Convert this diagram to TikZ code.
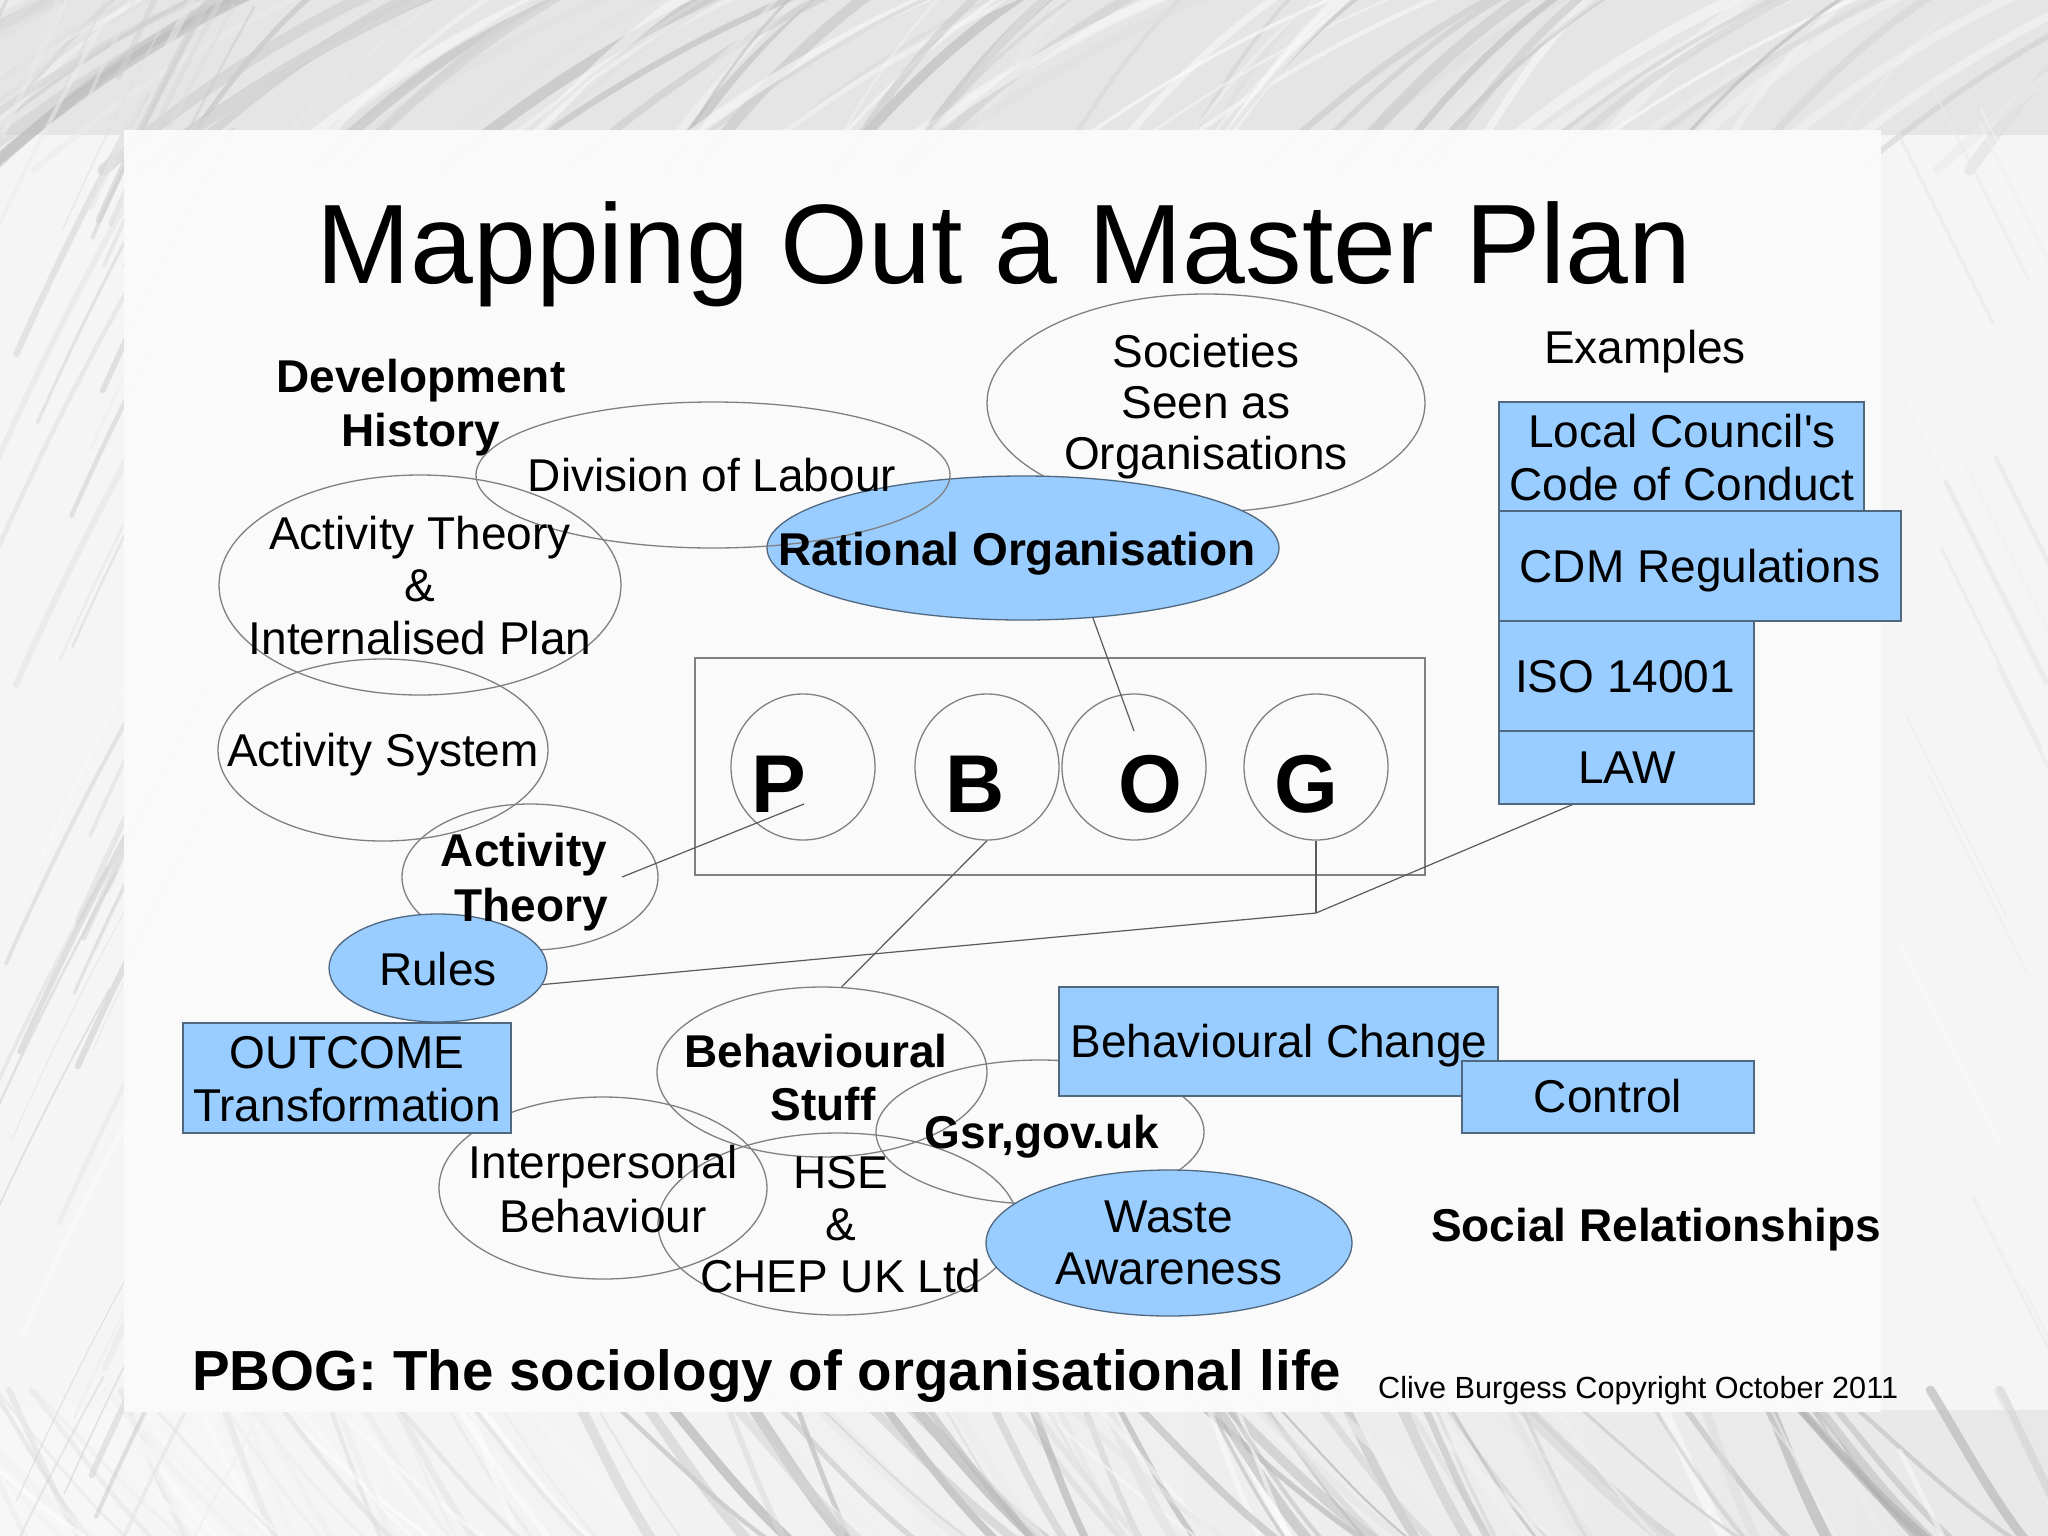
\documentclass[tikz,border=0pt]{standalone}
\usepackage{fontspec}
\setmainfont{Liberation Sans}
\newfontfamily\libsans{Liberation Sans}
\usetikzlibrary{shapes.geometric,calc}
\definecolor{blu}{HTML}{99CCFF}
\definecolor{ellgray}{HTML}{808080}
\definecolor{lngray}{HTML}{5A5A5A}
\definecolor{bluedge}{HTML}{50687F}
\definecolor{panelc}{HTML}{FBFBFB}
\newcommand\myreg{\fontsize{46}{52}\selectfont}
\newcommand\mybold{\fontsize{46}{52}\selectfont\bfseries}
\newcommand\mytitle{\fontsize{113}{130}\selectfont}
\newcommand\myletter{\fontsize{82}{90}\selectfont\bfseries}
\newcommand\myfoot{\fontsize{56.5}{64}\selectfont\bfseries}
\newcommand\mysmall{\fontsize{30.6}{36}\selectfont}
\tikzset{
 oval/.style={ellipse, draw=ellgray, line width=1.3pt, inner sep=0pt},
 blueoval/.style={ellipse, draw=bluedge, fill=blu, line width=1.3pt, inner sep=0pt},
 bluebox/.style={rectangle, draw=bluedge, fill=blu, line width=1.3pt, inner sep=0pt},
 circ/.style={ellipse, draw=ellgray, line width=1.3pt, inner sep=0pt, minimum width=144pt, minimum height=146pt},
 conn/.style={draw=lngray, line width=1.2pt},
 txt/.style={inner sep=0pt, anchor=base, font=\myreg},
 btxt/.style={inner sep=0pt, anchor=base, font=\mybold},
 feather/.style={line cap=round, opacity=0.55},
}
\begin{document}
\begin{tikzpicture}[x=1pt,y=-1pt]
\useasboundingbox (0,0) rectangle (2048,1535);
% ---------- background ----------
\fill[black!4] (0,0) rectangle (2048,1535);
\fill[black!10] (0,0) rectangle (2048,135);
\shade[left color=black!3, right color=black!9] (0,1410) rectangle (2048,1535);
\pgfmathsetseed{7}
\foreach \i in {1,...,110}{%
  \pgfmathsetmacro{\xa}{rnd*2300-300}%
  \pgfmathsetmacro{\dx}{120+rnd*200}%
  \pgfmathtruncatemacro{\g}{rnd*30}%
  \pgfmathsetmacro{\w}{2+rnd*10}%
  \draw[feather, black!\g, line width=\w pt] (\xa,170) .. controls (\xa+0.25*\dx,110) and (\xa+0.6*\dx,40) .. (\xa+\dx,-10);
}
\foreach \i in {1,...,90}{%
  \pgfmathsetmacro{\xa}{500+rnd*1600}%
  \pgfmathsetmacro{\dx}{60+rnd*140}%
  \pgfmathtruncatemacro{\g}{rnd*36}%
  \pgfmathsetmacro{\w}{2+rnd*9}%
  \draw[feather, black!\g, line width=\w pt] (\xa,1390) .. controls (\xa+0.3*\dx,1440) and (\xa+0.6*\dx,1500) .. (\xa+\dx,1550);
}
\foreach \i in {1,...,50}{%
  \pgfmathsetmacro{\xa}{rnd*600-100}%
  \pgfmathsetmacro{\dx}{60+rnd*140}%
  \pgfmathtruncatemacro{\g}{rnd*14}%
  \pgfmathsetmacro{\w}{1+rnd*6}%
  \draw[feather, black!\g, line width=\w pt] (\xa,1390) .. controls (\xa+0.3*\dx,1440) and (\xa+0.6*\dx,1500) .. (\xa+\dx,1550);
}
\foreach \i in {1,...,60}{%
  \pgfmathsetmacro{\ya}{rnd*1700}%
  \pgfmathsetmacro{\xb}{rnd*170-40}%
  \pgfmathtruncatemacro{\g}{rnd*22}%
  \pgfmathsetmacro{\w}{1+rnd*6}%
  \draw[feather, black!\g, line width=\w pt] (\xb,\ya) .. controls (\xb+40,\ya-90) and (\xb+80,\ya-170) .. (\xb+130,\ya-260);
}
\foreach \i in {1,...,30}{%
  \pgfmathsetmacro{\ya}{rnd*1600}%
  \pgfmathsetmacro{\xb}{1870+rnd*200}%
  \pgfmathtruncatemacro{\g}{rnd*12}%
  \pgfmathsetmacro{\w}{1+rnd*4}%
  \draw[feather, black!\g, line width=\w pt] (\xb,\ya) .. controls (\xb+30,\ya+60) and (\xb+60,\ya+120) .. (\xb+100,\ya+200);
}
\fill[panelc, opacity=0.96] (124,130) rectangle (1881,1412);
% ---------- shapes ----------
\node[oval, minimum width=438pt, minimum height=218pt] (soc) at (1206,403) {};
\node[blueoval, minimum width=512pt, minimum height=144pt] (ratorg) at (1023,548) {};
\node[oval, minimum width=474pt, minimum height=146pt] (divlab) at (713,475) {};
\node[oval, minimum width=402pt, minimum height=220pt] (aip) at (420,585) {};
\node[oval, minimum width=330pt, minimum height=182pt] (actsys) at (383,750) {};
\node[oval, minimum width=256pt, minimum height=146pt] (atb) at (530,877) {};
\node[blueoval, minimum width=218pt, minimum height=108pt] (rules) at (438,968) {};
\node[draw=ellgray, line width=1.2pt, inner sep=0pt, minimum width=730pt, minimum height=217pt] (pbog) at (1060,766.5) {};
\node[circ] (P) at (803,767) {};
\node[circ] (B) at (987,767) {};
\node[circ] (O) at (1134,767) {};
\node[circ] (G) at (1316,767) {};
\node[oval, minimum width=328pt, minimum height=182pt] (interp) at (603,1188) {};
\node[bluebox, minimum width=328pt, minimum height=110pt] (outcome) at (347,1078) {};
\node[oval, minimum width=330pt, minimum height=170pt] (bstuff) at (822,1072) {};
\node[oval, minimum width=360pt, minimum height=182pt] (hse) at (838,1224) {};
\node[oval, minimum width=328pt, minimum height=144pt] (gsr) at (1040,1132) {};
\node[bluebox, minimum width=439pt, minimum height=109pt] (bchange) at (1278.5,1041.5) {};
\node[bluebox, minimum width=292pt, minimum height=72pt] (control) at (1608,1097) {};
\node[blueoval, minimum width=366pt, minimum height=146pt] (waste) at (1169,1243) {};
\node[bluebox, minimum width=365pt, minimum height=109pt] (local) at (1681.5,456.5) {};
\node[bluebox, minimum width=402pt, minimum height=110pt] (cdm) at (1700,566) {};
\node[bluebox, minimum width=255pt, minimum height=110pt] (iso) at (1626.5,676) {};
\node[bluebox, minimum width=255pt, minimum height=73pt] (law) at (1626.5,767.5) {};
% ---------- connectors ----------
\coordinate (junc) at (1316,913);
\draw[conn] (ratorg.-45) -- ($(O.center)+(0,-36)$);
\draw[conn] ($(atb.center)+(92,0)$) -- ($(P.center)+(1,37)$);
\draw[conn] (B.south) -- (bstuff.77);
\draw[conn] (G.south) -- (junc);
\draw[conn] (rules.-9) -- (junc) -- ($(law.south west)+(74,0)$);
% ---------- texts ----------
\node[inner sep=0pt, anchor=base, font=\mytitle] (title) at (1004,283) {Mapping Out a Master Plan};
\node[btxt] (dev1) at (421,392.5) {Development};
\node[btxt] (dev2) at (421,446.5) {History};
\node[txt] (divT) at (712,491.5) {Division of Labour};
\node[txt] (soc1) at (1206,367.5) {Societies};
\node[txt] (soc2) at (1206,418.5) {Seen as};
\node[txt] (soc3) at (1206,469.5) {Organisations};
\node[btxt] (ratT) at (1017,565.5) {Rational Organisation};
\node[txt] (exT) at (1645,363) {Examples};
\node[txt] (loc1) at (1682,447.5) {\libsans Local Council's};
\node[txt] (loc2) at (1682,500.5) {Code of Conduct};
\node[txt] (cdmT) at (1700,582.5) {CDM Regulations};
\node[txt] (isoT) at (1625,692.5) {ISO 14001};
\node[txt] (lawT) at (1627,783.5) {LAW};
\node[txt] (aip1) at (420,549.5) {Activity Theory};
\node[txt] (aip2) at (420,601.5) {\&};
\node[txt] (aip3) at (420,654.5) {Internalised Plan};
\node[txt] (asT) at (383,766) {Activity System};
\node[btxt] (atb1) at (524,866.5) {Activity};
\node[btxt] (atb2) at (531,921) {Theory};
\node[txt] (rulT) at (438,985) {Rules};
\node[txt] (out1) at (347,1068.5) {OUTCOME};
\node[txt] (out2) at (347,1121.5) {Transformation};
\node[inner sep=0pt, anchor=base, font=\myletter] (Pt) at (779,812) {P};
\node[inner sep=0pt, anchor=base, font=\myletter] (Bt) at (975,812) {B};
\node[inner sep=0pt, anchor=base, font=\myletter] (Ot) at (1150,812) {O};
\node[inner sep=0pt, anchor=base, font=\myletter] (Gt) at (1306,812) {G};
\node[btxt] (bs1) at (816,1067) {Behavioural};
\node[btxt] (bs2) at (823,1120) {Stuff};
\node[txt] (ip1) at (603,1178.5) {Interpersonal};
\node[txt] (ip2) at (603,1232.5) {Behaviour};
\node[txt] (hse1) at (841,1188.5) {HSE};
\node[txt] (hse2) at (841,1240.5) {\&};
\node[txt] (hse3) at (841,1292.5) {CHEP UK Ltd};
\node[btxt] (gsrT) at (1042,1148) {Gsr,gov.uk};
\node[txt] (bchT) at (1279,1057.5) {Behavioural Change};
\node[txt] (conT) at (1608,1112.5) {Control};
\node[txt] (was1) at (1169,1232.5) {Waste};
\node[txt] (was2) at (1169,1284.5) {Awareness};
\node[btxt] (socrel) at (1656,1241.5) {Social Relationships};
\node[inner sep=0pt, anchor=base west, font=\myfoot] (foot) at (192,1390) {PBOG: The sociology of organisational life};
\node[inner sep=0pt, anchor=base west, font=\mysmall] (copy) at (1378,1398) {Clive Burgess Copyright October 2011};
\end{tikzpicture}
\end{document}
